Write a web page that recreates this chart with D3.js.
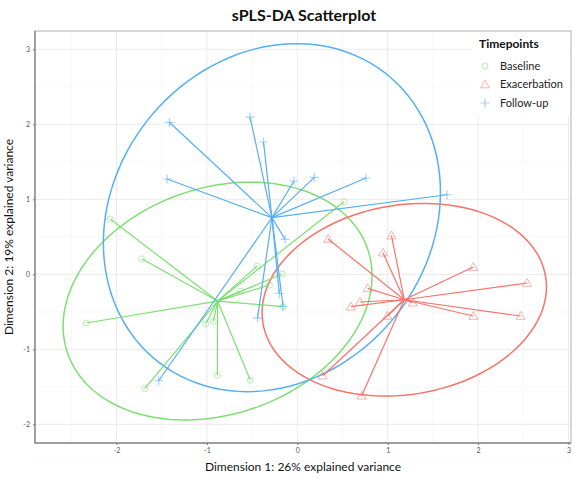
<!DOCTYPE html>
<html>
<head>
<meta charset="utf-8">
<script src="https://cdn.jsdelivr.net/npm/d3@7"></script>
<style>
  body { margin: 0; background: #fff; }
  text { font-family: Lato, "Open Sans", sans-serif; }
</style>
</head>
<body>
<script>
// Group names, in legend order
const groups = ["Baseline", "Exacerbation", "Follow-up"];

// Component scores (dimension 1, dimension 2)
const baselineX = [-2.069, -1.721, -2.334, -1.013, -0.929, -0.885, -0.520, -1.688, -0.444, -0.628, -0.308, -0.166, 0.517, -0.158];
const baselineY = [0.737, 0.208, -0.649, -0.663, -0.627, -1.347, -1.413, -1.525, 0.111, -0.225, -0.143, 0.004, 0.968, -0.432];

const exacerbationX = [0.340, 1.042, 0.948, 1.947, 2.541, 0.779, 0.692, 0.594, 1.277, 1.947, 2.471, 0.996, 0.281, 0.712];
const exacerbationY = [0.471, 0.517, 0.288, 0.097, -0.116, -0.187, -0.369, -0.432, -0.379, -0.556, -0.556, -0.556, -1.352, -1.619];

const followupX = [-1.416, -1.441, -0.523, -0.374, -0.037, 0.188, 0.760, 1.656, -0.136, -0.199, -0.158, -0.440, -1.533];
const followupY = [2.027, 1.271, 2.097, 1.764, 1.244, 1.293, 1.284, 1.061, 0.467, -0.256, -0.429, -0.583, -1.419];

const xTicks = [-2, -1, 0, 1, 2, 3];
const yTicks = [-2, -1, 0, 1, 2, 3];

const ellipseLevel = 0.89;

const colors = { "Baseline": "#7ddf72", "Exacerbation": "#f7736a", "Follow-up": "#55aff5" };
const shapes = { "Baseline": "circle", "Exacerbation": "triangle", "Follow-up": "plus" };

const series = [
  { name: "Baseline", xs: baselineX, ys: baselineY },
  { name: "Exacerbation", xs: exacerbationX, ys: exacerbationY },
  { name: "Follow-up", xs: followupX, ys: followupY }
];

const outerWidth = 575;
const outerHeight = 478;
const panel = { left: 35, right: 571, top: 31, bottom: 443 };

const svg = d3.select("body")
  .append("svg")
  .attr("width", outerWidth)
  .attr("height", outerHeight);

const x = d3.scaleLinear()
  .domain([-2.902, 3.028])
  .range([panel.left, panel.right]);

const y = d3.scaleLinear()
  .domain([-2.249, 3.244])
  .range([panel.bottom, panel.top]);

// Grid lines, minor then major
const grid = svg.append("g");
const minorX = d3.range(-2.5, 3.01, 1);
const minorY = d3.range(-2.5, 3.01, 1);

grid.selectAll(".mx").data(minorX).join("line")
  .attr("x1", d => x(d)).attr("x2", d => x(d))
  .attr("y1", panel.top).attr("y2", panel.bottom)
  .attr("stroke", "#f3f3f3").attr("stroke-width", 0.6);
grid.selectAll(".my").data(minorY).join("line")
  .attr("y1", d => y(d)).attr("y2", d => y(d))
  .attr("x1", panel.left).attr("x2", panel.right)
  .attr("stroke", "#f3f3f3").attr("stroke-width", 0.6);
grid.selectAll(".gx").data(xTicks).join("line")
  .attr("x1", d => x(d)).attr("x2", d => x(d))
  .attr("y1", panel.top).attr("y2", panel.bottom)
  .attr("stroke", "#ebebeb").attr("stroke-width", 1);
grid.selectAll(".gy").data(yTicks).join("line")
  .attr("y1", d => y(d)).attr("y2", d => y(d))
  .attr("x1", panel.left).attr("x2", panel.right)
  .attr("stroke", "#ebebeb").attr("stroke-width", 1);

// Confidence ellipse from the group covariance
function ellipsePoints(xs, ys) {
  const mx = d3.mean(xs), my = d3.mean(ys);
  const n = xs.length;
  let sxx = 0, syy = 0, sxy = 0;
  for (let i = 0; i < n; i++) {
    sxx += (xs[i] - mx) ** 2;
    syy += (ys[i] - my) ** 2;
    sxy += (xs[i] - mx) * (ys[i] - my);
  }
  sxx /= n - 1; syy /= n - 1; sxy /= n - 1;
  const t = Math.sqrt(-2 * Math.log(1 - ellipseLevel));
  // cholesky of covariance
  const a = Math.sqrt(sxx);
  const b = sxy / a;
  const c = Math.sqrt(syy - b * b);
  return d3.range(0, 120).map(i => {
    const th = i / 120 * 2 * Math.PI;
    const u = Math.cos(th), v = Math.sin(th);
    return [mx + t * a * u, my + t * (b * u + c * v)];
  });
}

const lineGen = d3.line()
  .x(d => x(d[0]))
  .y(d => y(d[1]))
  .curve(d3.curveLinearClosed);

const plot = svg.append("g");

series.forEach(s => {
  plot.append("path")
    .attr("d", lineGen(ellipsePoints(s.xs, s.ys)))
    .attr("fill", "none")
    .attr("stroke", colors[s.name])
    .attr("stroke-width", 1.5);
});

// Star lines from each point to its group centroid
series.forEach(s => {
  const cx = d3.mean(s.xs), cy = d3.mean(s.ys);
  plot.append("g").selectAll("line")
    .data(s.xs.map((v, i) => [v, s.ys[i]]))
    .join("line")
    .attr("x1", x(cx)).attr("y1", y(cy))
    .attr("x2", d => x(d[0])).attr("y2", d => y(d[1]))
    .attr("stroke", colors[s.name])
    .attr("stroke-width", 1.2);
});

// Marker drawing
function drawMarker(sel, shape, color) {
  if (shape === "circle") {
    sel.append("circle").attr("r", 3)
      .attr("fill", "none").attr("stroke", color).attr("stroke-width", 1);
  } else if (shape === "triangle") {
    sel.append("path").attr("d", "M0,-4.5L4.5,3.3L-4.5,3.3Z")
      .attr("fill", "none").attr("stroke", color).attr("stroke-width", 1);
  } else {
    sel.append("path").attr("d", "M-4.5,0H4.5M0,-4.5V4.5")
      .attr("fill", "none").attr("stroke", color).attr("stroke-width", 1.2);
  }
}

series.forEach(s => {
  s.xs.forEach((v, i) => {
    const m = plot.append("g")
      .attr("transform", `translate(${x(v)},${y(s.ys[i])})`)
      .attr("opacity", 0.55);
    drawMarker(m, shapes[s.name], colors[s.name]);
  });
});

// Panel border
svg.append("rect")
  .attr("x", panel.left).attr("y", panel.top)
  .attr("width", panel.right - panel.left)
  .attr("height", panel.bottom - panel.top)
  .attr("fill", "none").attr("stroke", "#b0b0b0").attr("stroke-width", 1);
svg.append("path")
  .attr("d", `M${panel.left},${panel.top}V${panel.bottom}H${panel.right}`)
  .attr("fill", "none").attr("stroke", "#8a8a8a").attr("stroke-width", 1.4);

// Axes
const fmt = d => String(d);
const xAxis = svg.append("g")
  .attr("transform", `translate(0,${panel.bottom})`)
  .call(d3.axisBottom(x).tickValues(xTicks).tickFormat(fmt).tickSize(2).tickPadding(3));
const yAxis = svg.append("g")
  .attr("transform", `translate(${panel.left},0)`)
  .call(d3.axisLeft(y).tickValues(yTicks).tickFormat(fmt).tickSize(2).tickPadding(3));

[xAxis, yAxis].forEach(a => {
  a.select(".domain").remove();
  a.selectAll(".tick line").attr("stroke", "#777");
  a.selectAll(".tick text")
    .attr("fill", "#555")
    .style("font-size", "7px")
    .style("font-family", "Lato, sans-serif");
});

// Titles
svg.append("text")
  .attr("x", 304).attr("y", 21)
  .attr("text-anchor", "middle")
  .style("font-size", "16px").style("font-weight", "bold")
  .attr("fill", "#111")
  .text("sPLS-DA Scatterplot");

svg.append("text")
  .attr("x", (panel.left + panel.right) / 2).attr("y", 471)
  .attr("text-anchor", "middle")
  .style("font-size", "12px")
  .attr("fill", "#111")
  .text("Dimension 1: 26% explained variance");

svg.append("text")
  .attr("transform", `translate(13,${(panel.top + panel.bottom) / 2}) rotate(-90)`)
  .attr("text-anchor", "middle")
  .style("font-size", "12px")
  .attr("fill", "#111")
  .text("Dimension 2: 19% explained variance");

// Legend
const legend = svg.append("g");
legend.append("rect")
  .attr("x", 472).attr("y", 32)
  .attr("width", 98).attr("height", 84)
  .attr("fill", "#fff");
legend.append("text")
  .attr("x", 479).attr("y", 48)
  .style("font-size", "12px").style("font-weight", "bold")
  .attr("fill", "#111")
  .text("Timepoints");

groups.forEach((g, i) => {
  const yy = 66 + i * 18.5;
  const m = legend.append("g")
    .attr("transform", `translate(485,${yy})`)
    .attr("opacity", 0.55);
  drawMarker(m, shapes[g], colors[g]);
  legend.append("text")
    .attr("x", 500).attr("y", yy + 3.5)
    .style("font-size", "11px")
    .attr("fill", "#222")
    .text(g);
});
</script>
</body>
</html>
